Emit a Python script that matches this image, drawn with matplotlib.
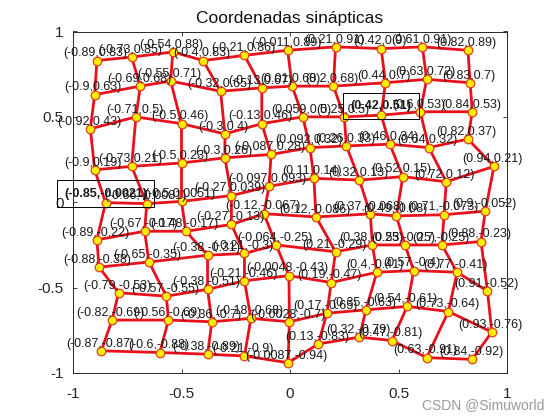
import matplotlib
matplotlib.use('Agg')
import matplotlib.pyplot as plt
import numpy as np

# pesos sinapticos, una lista por fila de la red de 10x10
x_rows = [
    [-0.89, -0.73, -0.54, -0.4, -0.21, -0.011, 0.21, 0.42, 0.61, 0.82],
    [-0.9, -0.69, -0.55, -0.32, -0.13, 0.01, 0.2, 0.44, 0.63, 0.83],
    [-0.92, -0.71, -0.5, -0.3, -0.13, 0.059, 0.25, 0.42, 0.6, 0.84],
    [-0.9, -0.73, -0.5, -0.3, -0.087, 0.092, 0.26, 0.46, 0.64, 0.82],
    [-0.85, -0.66, -0.5, -0.27, -0.097, 0.11, 0.32, 0.52, 0.72, 0.94],
    [-0.89, -0.67, -0.48, -0.27, -0.12, 0.12, 0.37, 0.49, 0.71, 0.9],
    [-0.88, -0.65, -0.38, -0.21, -0.064, 0.21, 0.38, 0.53, 0.7, 0.88],
    [-0.79, -0.57, -0.38, -0.21, -0.0048, 0.19, 0.4, 0.57, 0.77, 0.91],
    [-0.82, -0.56, -0.36, -0.18, -0.0028, 0.17, 0.35, 0.54, 0.73, 0.93],
    [-0.87, -0.6, -0.38, -0.21, -0.0087, 0.13, 0.32, 0.47, 0.63, 0.84],
]
y_rows = [
    [0.83, 0.85, 0.88, 0.83, 0.86, 0.89, 0.91, 0.9, 0.91, 0.89],
    [0.63, 0.68, 0.71, 0.65, 0.67, 0.68, 0.68, 0.7, 0.72, 0.7],
    [0.43, 0.5, 0.46, 0.4, 0.46, 0.5, 0.5, 0.51, 0.53, 0.53],
    [0.19, 0.21, 0.23, 0.26, 0.28, 0.32, 0.33, 0.34, 0.32, 0.37],
    [-0.0021, -0.0081, 0.0051, 0.039, 0.093, 0.14, 0.13, 0.15, 0.12, 0.21],
    [-0.22, -0.17, -0.17, -0.13, -0.067, -0.086, -0.068, -0.08, -0.073, -0.052],
    [-0.38, -0.35, -0.31, -0.3, -0.25, -0.29, -0.25, -0.25, -0.25, -0.23],
    [-0.53, -0.55, -0.51, -0.46, -0.43, -0.47, -0.41, -0.4, -0.41, -0.52],
    [-0.69, -0.69, -0.7, -0.68, -0.7, -0.65, -0.63, -0.61, -0.64, -0.76],
    [-0.87, -0.88, -0.89, -0.9, -0.94, -0.83, -0.79, -0.81, -0.91, -0.92],
]
# neuronas resaltadas (fila, columna)
highlighted = [(2, 7), (4, 0)]
tick_vals = [-1, -0.5, 0, 0.5, 1]
tick_labels = ['-1', '-0.5', '0', '0.5', '1']

plt.rcParams['font.family'] = ['Liberation Sans', 'DejaVu Sans']

X = np.array(x_rows)
Y = np.array(y_rows)

fig = plt.figure(figsize=(5.6, 4.2), dpi=100)
ax = fig.add_axes([73 / 560, 1 - 373 / 420, 434 / 560, 341.5 / 420])

ax.plot(X, Y, color='#e8101a', lw=2.0, zorder=2)
ax.plot(X.T, Y.T, color='#e8101a', lw=2.0, zorder=2)
ax.plot(X.ravel(), Y.ravel(), ls='none', marker='o', ms=6.2, mfc='#ffee00',
        mec='#e2401a', mew=0.9, zorder=3)

for i in range(X.shape[0]):
    for j in range(X.shape[1]):
        label = f'({X[i, j]:.2g},{Y[i, j]:.2g})'
        if (i, j) in highlighted:
            ax.annotate(label, (X[i, j], Y[i, j]), xytext=(0, 6.5),
                        textcoords='offset points', ha='center', va='center',
                        fontsize=9, fontweight='bold', color='#1a1a1a', zorder=4,
                        bbox=dict(boxstyle='square,pad=0.58', fc='none', ec='black', lw=0.7))
        else:
            ax.annotate(label, (X[i, j], Y[i, j]), xytext=(-1, 5.2),
                        textcoords='offset points', ha='center', va='center',
                        fontsize=9, color='#1a1a1a', zorder=4)

ax.set_xlim(-1, 1)
ax.set_ylim(-1, 1)
ax.set_xticks(tick_vals)
ax.set_xticklabels(tick_labels)
ax.set_yticks(tick_vals)
ax.set_yticklabels(tick_labels)
ax.tick_params(direction='in', length=3, width=0.6, top=True, right=True,
               labelsize=11, colors='#262626')
ax.tick_params(axis='x', pad=10)
ax.tick_params(axis='y', pad=6.7)
for s in ax.spines.values():
    s.set_linewidth(0.7)
    s.set_color('#262626')
ax.set_title('Coordenadas sinápticas', fontsize=12.5, color='#111111', pad=6.3)

fig.text(544 / 560, 1 - 405 / 420, 'CSDN @Simuworld', ha='right', va='center', fontsize=10, color='#9a9a9a')

fig.savefig('out.png', dpi=100)
